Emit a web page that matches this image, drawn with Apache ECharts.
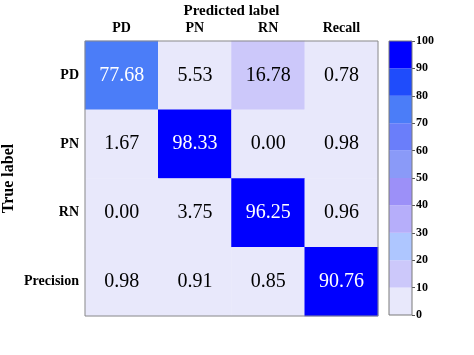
<!DOCTYPE html>
<html><head><meta charset="utf-8">
<script src="https://cdn.jsdelivr.net/npm/echarts@6/dist/echarts.min.js"></script>
<style>html,body{margin:0;padding:0;background:#fff}#c{width:474px;height:355px}</style>
</head><body><div id="c"></div>
<script>
const predictedLabels = ['PD', 'PN', 'RN', 'Recall'];
const trueLabels = ['PD', 'PN', 'RN', 'Precision'];
const rowPD = [77.68, 5.53, 16.78, 0.78];
const rowPN = [1.67, 98.33, 0.00, 0.98];
const rowRN = [0.00, 3.75, 96.25, 0.96];
const rowPrecision = [0.98, 0.91, 0.85, 90.76];
const colorbarTicks = [0, 10, 20, 30, 40, 50, 60, 70, 80, 90, 100];
const bandColors = ['#E8E8FB', '#CCC8FA', '#AEC6FF', '#B6AEFA', '#9C90F8', '#8A9AF8', '#6A7EFA', '#4B7DF8', '#1F4CFB', '#0000FF'];

const rows = [rowPD, rowPN, rowRN, rowPrecision];
const heatData = [];
rows.forEach((r, i) => r.forEach((v, j) => heatData.push([j, i, v])));
const pieces = bandColors.map((c, k) => ({ gte: colorbarTicks[k], lt: colorbarTicks[k + 1] + (k === bandColors.length - 1 ? 0.001 : 0), color: c }));
const bandSeries = bandColors.map((c, k) => ({
  type: 'bar', xAxisIndex: 1, yAxisIndex: 1, stack: 'cb', barWidth: '100%',
  data: [colorbarTicks[k + 1] - colorbarTicks[k]], itemStyle: { color: c }, silent: true
}));
const serif = '"Liberation Serif", "Times New Roman", serif';
const chart = echarts.init(document.getElementById('c'));
chart.setOption({
  animation: false,
  grid: [
    { left: 85, top: 41, width: 293, height: 275, show: true, borderColor: '#8a8a8a', borderWidth: 1, z: 5, outerBoundsMode: 'none', containLabel: false },
    { left: 389, top: 41, width: 23, height: 274, show: true, borderColor: '#7a7a7a', borderWidth: 1, z: 5, outerBoundsMode: 'none', containLabel: false }
  ],
  xAxis: [
    { type: 'category', gridIndex: 0, data: predictedLabels, position: 'top',
      axisLine: { show: false }, axisTick: { show: false },
      axisLabel: { fontFamily: serif, fontWeight: 'bold', fontSize: 14, color: '#000', margin: 6 },
      name: 'Predicted label', nameLocation: 'middle', nameGap: 22, nameMoveOverlap: false,
      nameTextStyle: { fontFamily: serif, fontWeight: 'bold', fontSize: 15, color: '#000' } },
    { type: 'category', gridIndex: 1, data: ['c'], show: false }
  ],
  yAxis: [
    { type: 'category', gridIndex: 0, data: trueLabels, inverse: true,
      axisLine: { show: false }, axisTick: { show: false },
      axisLabel: { fontFamily: serif, fontWeight: 'bold', fontSize: 14, color: '#000', margin: 6 },
      name: 'True label', nameLocation: 'middle', nameGap: 68, nameRotate: 90, nameMoveOverlap: false,
      nameTextStyle: { fontFamily: serif, fontWeight: 'bold', fontSize: 16, color: '#000' } },
    { type: 'value', gridIndex: 1, min: 0, max: 100, interval: 10, position: 'right',
      axisLine: { show: false }, splitLine: { show: false },
      axisTick: { show: true, inside: false, length: 3, lineStyle: { color: '#555' } },
      axisLabel: { fontFamily: serif, fontWeight: 'bold', fontSize: 12, color: '#000', margin: 4 } }
  ],
  visualMap: { type: 'piecewise', show: false, seriesIndex: 0, dimension: 2, pieces: pieces },
  series: [
    { type: 'heatmap', xAxisIndex: 0, yAxisIndex: 0, data: heatData,
      label: { show: true, fontFamily: serif, fontSize: 20,
        formatter: p => p.value[2] > 50 ? '{w|' + p.value[2].toFixed(2) + '}' : '{b|' + p.value[2].toFixed(2) + '}',
        rich: { w: { color: '#fff', fontFamily: serif, fontSize: 20 }, b: { color: '#000', fontFamily: serif, fontSize: 20 } } },
      emphasis: { disabled: true } }
  ].concat(bandSeries)
});
</script></body></html>
